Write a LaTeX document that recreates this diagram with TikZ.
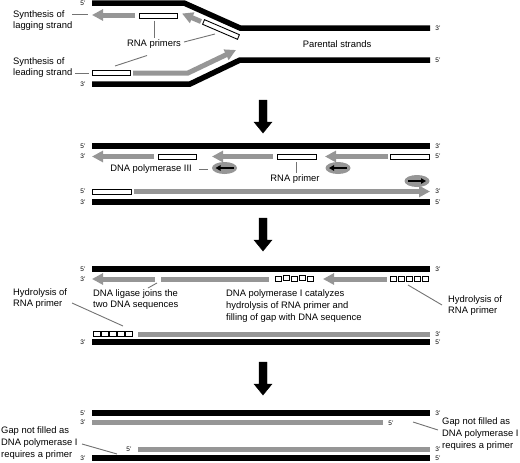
\documentclass[tikz,border=0pt]{standalone}
\usepackage{fontspec}
\setmainfont{Liberation Sans}
\usetikzlibrary{arrows.meta,shapes.geometric}
\definecolor{dnagray}{RGB}{150,150,150}
\definecolor{linegray}{RGB}{115,115,115}
\begin{document}
\begin{tikzpicture}[x=1pt,y=-1pt,
  parent/.style={line width=5.5pt,black},
  newdna/.style={line width=5pt,dnagray},
  newarrow/.style={newdna,-{Triangle[length=11pt,width=11pt]}},
  primer/.style={draw=black,fill=white,line width=0.9pt},
  sq/.style={draw=black,fill=white,line width=0.8pt},
  endlbl/.style={font=\fontsize{6.5}{6.5}\selectfont,inner sep=0pt},
  lbl/.style={font=\fontsize{9.4}{11.8}\selectfont,align=left,inner sep=0pt},
  conn/.style={draw=linegray,line width=0.9pt},
  pol/.style={ellipse,fill=dnagray,minimum width=25pt,minimum height=12pt,inner sep=0pt},
  polarrow/.style={line width=1.3pt,-{Triangle[length=5pt,width=5.5pt]}},
  bigdown/.style={fill=black}
]
\useasboundingbox (0,0) rectangle (520,463);

% ---------------- Panel 1 ----------------
\draw[parent] (92,3) -- (184,3) -- (240,28) -- (430,28);
\draw[parent] (92,84) -- (190,84) -- (240,60) -- (430,60);
\node[endlbl] (a5l) at (83,3) {5'};
\node[endlbl] (a3r) at (438,28) {3'};
\node[endlbl] (a5r) at (438,60) {5'};
\node[endlbl] (a3l) at (83,84) {3'};
% lagging strand
\draw[newarrow] (135,15) -- (92,15);
\draw[primer] (139,13) rectangle (177,18);
\draw[newarrow] (201,21.5) -- (182,13.5);
\draw[primer] (202.6,24.3) -- (237.5,39.3) -- (239.4,34.7) -- (204.5,19.7) -- cycle;
% leading strand
\draw[primer] (92,70.5) rectangle (130,75.5);
\draw[newarrow] (133,73) -- (188,73) -- (236,50);
% labels
\node[lbl,anchor=west] (synlag) at (13,20.5) {Synthesis of\\lagging strand};
\node[lbl,anchor=west] (synlead) at (13,67.5) {Synthesis of\\leading strand};
\node[lbl] (rnap) at (154,44) {RNA primers};
\node[lbl] (parental) at (337,44) {Parental strands};
\coordinate (c1a) at (72,14.5);  \coordinate (c1b) at (88,14.5);
\coordinate (c2a) at (75,73);    \coordinate (c2b) at (89,73);
\coordinate (c3a) at (154,20.5); \coordinate (c3b) at (154,37.5);
\coordinate (c4a) at (184,42);   \coordinate (c4b) at (215,34);
\coordinate (c5a) at (115,66);   \coordinate (c5b) at (147,55.5);
\draw[conn] (c1a) -- (c1b);
\draw[conn] (c2a) -- (c2b);
\draw[conn] (c3a) -- (c3b);
\draw[conn] (c4a) -- (c4b);
\draw[conn] (c5a) -- (c5b);

% down arrow 1
\draw[bigdown] (259,100) -- (267,100) -- (267,122) -- (272,122) -- (263,133) -- (254,122) -- (259,122) -- cycle;

% ---------------- Panel 2 ----------------
\draw[parent] (92,146) -- (430,146);
\draw[newarrow] (154,156.5) -- (92,156.5);
\draw[primer] (158,154) rectangle (196,159);
\draw[newarrow] (273,156.5) -- (212,156.5);
\draw[primer] (277,154) rectangle (316,159);
\draw[newarrow] (388,156.5) -- (325,156.5);
\draw[primer] (390,154) rectangle (429,159);
\draw[primer] (92,189) rectangle (131,194);
\draw[newarrow] (134,191.5) -- (430,191.5);
\draw[parent] (92,202) -- (430,202);
\node[endlbl] (b5l1) at (83,146) {5'};
\node[endlbl] (b3l2) at (83,156.5) {3'};
\node[endlbl] (b5l3) at (83,191.5) {5'};
\node[endlbl] (b3l4) at (83,202) {3'};
\node[endlbl] (b3r1) at (438,146) {3'};
\node[endlbl] (b5r2) at (438,156.5) {5'};
\node[endlbl] (b3r3) at (438,191.5) {3'};
\node[endlbl] (b5r4) at (438,202) {5'};
\node[pol] (p1) at (224.5,168) {};
\node[pol] (p2) at (338,168) {};
\node[pol] (p3) at (417,181) {};
\draw[polarrow] ([xshift=9pt]p1.center) -- ([xshift=-9pt]p1.center);
\draw[polarrow] ([xshift=9pt]p2.center) -- ([xshift=-9pt]p2.center);
\draw[polarrow] ([xshift=-9pt]p3.center) -- ([xshift=9pt]p3.center);
\node[lbl] (pol3) at (151,169) {DNA polymerase III};
\node[lbl] (rnap2) at (295,179) {RNA primer};
\coordinate (c6a) at (199,169);   \coordinate (c6b) at (208,169);
\coordinate (c7a) at (296,162);   \coordinate (c7b) at (296,172.5);
\draw[conn] (c6a) -- (c6b);
\draw[conn] (c7a) -- (c7b);

% down arrow 2
\draw[bigdown] (259,218) -- (267,218) -- (267,240) -- (272,240) -- (263,251) -- (254,240) -- (259,240) -- cycle;

% ---------------- Panel 3 ----------------
\draw[parent] (92,269) -- (430,269);
\draw[newarrow] (155,279) -- (92,279);
\draw[newdna] (161,279) -- (269,279);
\foreach \i/\dy in {0/0,1/-1.5,2/0,3/-1.5,4/0} {
  \draw[sq] ({275+8*\i},{276.5+\dy}) rectangle ({281.5+8*\i},{281.5+\dy});
}
\draw[newarrow] (387,279) -- (323,279);
\foreach \i in {0,...,4} {
  \draw[sq] ({390+8*\i},276.5) rectangle ({396.5+8*\i},281.5);
  \draw[sq] ({93.5+8*\i},331.5) rectangle ({100+8*\i},336.5);
}
\draw[newdna] (138,334) -- (430,334);
\draw[parent] (92,342) -- (430,342);
\node[endlbl] (c5l1) at (83,269) {5'};
\node[endlbl] (c3l2) at (83,279) {3'};
\node[endlbl] (c3l4) at (83,342) {3'};
\node[endlbl] (c3r1) at (438,269) {3'};
\node[endlbl] (c3r3) at (438,334) {3'};
\node[endlbl] (c5r4) at (438,342) {5'};
\node[lbl,anchor=west] (ligase) at (93,299.5) {DNA ligase joins the\\two DNA sequences};
\node[lbl,anchor=west] (pol1) at (226,306) {DNA polymerase I catalyzes\\hydrolysis of RNA primer and\\filling of gap with DNA sequence};
\node[lbl,anchor=west] (hydl) at (13,298.5) {Hydrolysis of\\RNA primer};
\node[lbl,anchor=west] (hydr) at (448,305.5) {Hydrolysis of\\RNA primer};
\coordinate (c8a) at (148,288);  \coordinate (c8b) at (157,283);
\coordinate (c9a) at (72,303);   \coordinate (c9b) at (123,326);
\coordinate (c10a) at (408,285); \coordinate (c10b) at (442,305);
\draw[conn] (c8a) -- (c8b);
\draw[conn] (c9a) -- (c9b);
\draw[conn] (c10a) -- (c10b);

% down arrow 3
\draw[bigdown] (259,362) -- (267,362) -- (267,384) -- (272,384) -- (263,395) -- (254,384) -- (259,384) -- cycle;

% ---------------- Panel 4 ----------------
\draw[parent] (92,413) -- (430,413);
\draw[newdna] (92,422.5) -- (383,422.5);
\draw[newdna] (138,449) -- (430,449);
\draw[parent] (92,458) -- (430,458);
\node[endlbl] (d5l1) at (83,413) {5'};
\node[endlbl] (d3l2) at (83,422.5) {3'};
\node[endlbl] (d5m) at (129,449) {5'};
\node[endlbl] (d3l4) at (83,458) {3'};
\node[endlbl] (d3r1) at (438,413) {3'};
\node[endlbl] (d5m2) at (391,423.5) {5'};
\node[endlbl] (d3r3) at (438,449) {3'};
\node[endlbl] (d5r4) at (438,458) {5'};
\node[lbl,anchor=west] (gapl) at (1,443) {Gap not filled as\\DNA polymerase I\\requires a primer};
\node[lbl,anchor=west] (gapr) at (442,434) {Gap not filled as\\DNA polymerase I\\requires a primer};
\coordinate (c11a) at (82,444);  \coordinate (c11b) at (117,454);
\coordinate (c12a) at (413,422); \coordinate (c12b) at (438,430);
\draw[conn] (c11a) -- (c11b);
\draw[conn] (c12a) -- (c12b);
\end{tikzpicture}
\end{document}
